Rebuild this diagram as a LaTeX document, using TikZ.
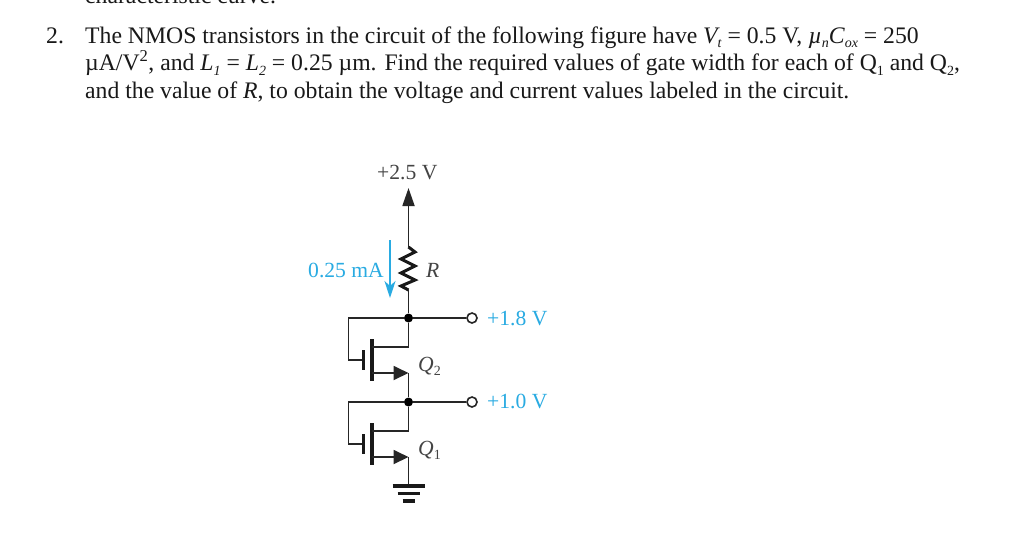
\documentclass[tikz,border=0pt]{standalone}
\usepackage{fontspec}
\setmainfont{Liberation Serif}
\usepackage{xcolor}
\usetikzlibrary{arrows.meta}
\definecolor{labelblue}{HTML}{29ABE2}
\definecolor{labelgray}{HTML}{444444}
\newcommand{\subs}[1]{\raisebox{-0.2em}{\fontsize{14}{14}\selectfont #1}}

\begin{document}
\begin{tikzpicture}[x=1pt, y=-1pt]
    % Define styles
    \tikzstyle{para} = [anchor=base west, inner sep=0pt, text=black!90, font=\fontsize{23.7}{27}\selectfont]
    \tikzstyle{lab} = [anchor=base west, inner sep=0pt, font=\fontsize{21.6}{24}\selectfont]
    \tikzstyle{wire} = [line width=1.8pt, black!85]
    \tikzstyle{bar} = [line width=3.4pt, black!90]
    \tikzstyle{gbar} = [line width=3.2pt, black!90]
    \tikzstyle{junction} = [circle, fill=black, inner sep=0pt, minimum size=9pt]
    \tikzstyle{terminal} = [circle, draw=black!85, fill=white, line width=1.6pt, inner sep=0pt, minimum size=10pt]

    \useasboundingbox (0,0) rectangle (1024,542);
    \fill[white] (0,0) rectangle (1024,542);

    % Text
    \begin{scope}
    \clip (0,0) rectangle (1024,542);
    \node [para] (prev) at (85,3) {characteristic curve.};
    \end{scope}
    \node [para] (num) at (46,43) {2.};
    \node [para] (line1) at (85,43) {The NMOS transistors in the circuit of the following figure have \textit{V\subs{t}} = 0.5 V, \textit{µ\subs{n}C\subs{ox}} = 250};
    \node [para] (line2) at (85,70.5) {µA/V\textsuperscript{2}, and \textit{L\subs{1}} = \textit{L\subs{2}} = 0.25 µm. Find the required values of gate width for each of Q\subs{1} and Q\subs{2},};
    \node [para] (line3) at (85,98) {and the value of \textit{R}, to obtain the voltage and current values labeled in the circuit.};

    % Nodes
    \node [lab, text=labelgray] (vdd) at (377,179) {+2.5 V};
    \coordinate (rail) at (408.5,188);
    \coordinate (rtop) at (408.5,247);
    \coordinate (rbot) at (408.5,290);
    \node [lab, text=labelblue] (current) at (308,277) {0.25 mA};
    \node [lab, text=labelgray] (res) at (426,277) {\textit{R}};
    \node [junction] (jtop) at (408.5,318) {};
    \node [junction] (jbot) at (408.5,402) {};
    \node [terminal] (ttop) at (472,318) {};
    \node [terminal] (tbot) at (472,402) {};
    \node [lab, text=labelblue] (vtop) at (487,325) {+1.8 V};
    \node [lab, text=labelblue] (vbot) at (487,408) {+1.0 V};
    \node [lab, text=labelgray] (qtwo) at (418,371) {\textit{Q}\subs{2}};
    \node [lab, text=labelgray] (qone) at (418,455) {\textit{Q}\subs{1}};
    \coordinate (gnd) at (408.5,486);

    % Supply and resistor
    \draw [wire, -{Triangle[length=18pt,width=12pt]}] (rtop) -- (rail);
    \draw [line width=3pt, black!90, line join=miter] (rtop) -- ++(6.5,5) -- ++(-14,7) -- ++(14,7) -- ++(-14,7) -- ++(14,7) -- ++(-14,6) -- (rbot);
    \draw [wire] (rbot) -- (jtop);
    \draw [line width=1.8pt, labelblue, -{Stealth[length=17pt,width=11pt,inset=5pt]}] (390,240) -- (390,298);

    % Transistors
    \draw [wire] (jtop) -- (ttop);
    \draw [wire] (jbot) -- (tbot);
    \foreach \jn/\qn in {jtop/two,jbot/one} {
        \draw [wire] (\jn) -- ++(-60,0) -- ++(0,42) -- ++(15,0) coordinate (gate\qn);
        \draw [bar] ([yshift=10pt]gate\qn) -- ([yshift=-10pt]gate\qn);
        \draw [bar] ([xshift=8.5pt,yshift=21pt]gate\qn) -- ([xshift=8.5pt,yshift=-21pt]gate\qn);
        \draw [wire] (\jn) -- ++(0,29) -- ++(-36.5,0);
        \draw [wire, -{Triangle[length=15pt,width=14pt]}] ([xshift=8.5pt,yshift=-13pt]gate\qn) -- ++(36.5,0) coordinate (src\qn);
    }
    \draw [wire] (srctwo) -- (jbot);
    \draw [wire] (srcone) -- (gnd);

    % Ground
    \draw [gbar] ([xshift=-16pt]gnd) -- ([xshift=16pt]gnd);
    \draw [gbar] ([xshift=-11pt,yshift=-7.5pt]gnd) -- ([xshift=11pt,yshift=-7.5pt]gnd);
    \draw [gbar] ([xshift=-6pt,yshift=-15pt]gnd) -- ([xshift=6pt,yshift=-15pt]gnd);
\end{tikzpicture}
\end{document}
